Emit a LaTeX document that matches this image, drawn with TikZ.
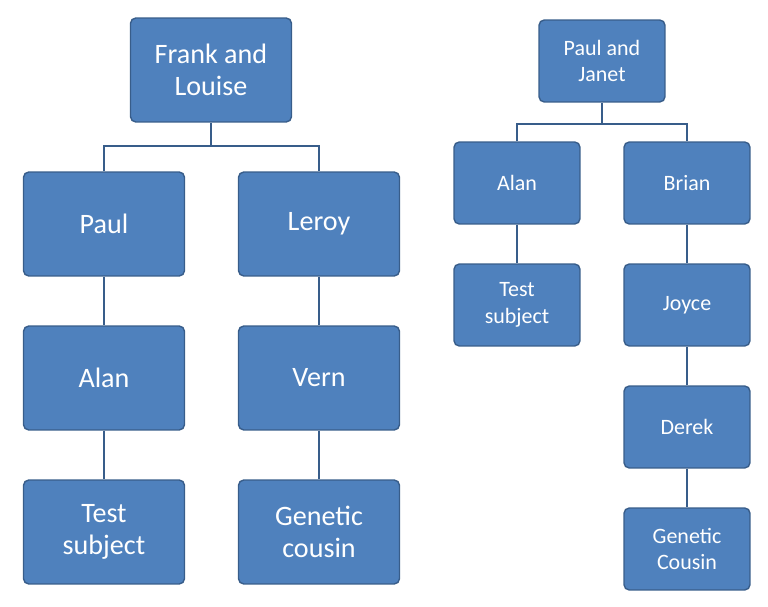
\documentclass[tikz,border=0pt]{standalone}
\usepackage{fontspec}
\setmainfont{Carlito}
\usetikzlibrary{positioning}
\definecolor{boxblue}{HTML}{4F81BD}
\definecolor{edgeblue}{HTML}{385D8A}
\tikzset{
  person/.style={draw=edgeblue, fill=boxblue, text=white, rounded corners=3pt,
    line width=0.8pt, align=center, inner sep=0pt},
  big/.style={person, minimum width=3.22cm, minimum height=2.08cm, font=\fontsize{16}{18}\selectfont},
  small/.style={person, minimum width=2.52cm, minimum height=1.64cm, font=\fontsize{12.5}{15}\selectfont},
  link/.style={draw=edgeblue, line width=1.2pt}
}
\begin{document}
\begin{tikzpicture}[x=0.02cm,y=-0.02cm]
\useasboundingbox (0,0) rectangle (768,607);

% ---------------------
% Frank and Louise
\node[big] (FrankLouise) at (211,70) {Frank and\\Louise};
\node[big] (Paul) at (104,224) {Paul};
\node[big] (Leroy) at (319,224) {Leroy};
\node[big] (AlanL) at (104,378) {Alan};
\node[big] (Vern) at (319,378) {Vern};
\node[big] (TestL) at (104,532) {Test\\subject};
\node[big] (CousinL) at (319,532) {Genetic\\cousin};

\coordinate (BarL) at (211,146);
\draw[link] (FrankLouise) -- (BarL);
\draw[link] (Paul.north) |- (BarL) -| (Leroy.north);
\draw[link] (Paul) -- (AlanL) -- (TestL);
\draw[link] (Leroy) -- (Vern) -- (CousinL);

% ---------------------
% Paul and Janet
\node[small] (PaulJanet) at (602,61) {Paul and\\Janet};
\node[small] (AlanR) at (517,183) {Alan};
\node[small] (Brian) at (687,183) {Brian};
\node[small] (TestR) at (517,305) {Test\\subject};
\node[small] (Joyce) at (687,305) {Joyce};
\node[small] (Derek) at (687,427) {Derek};
\node[small] (CousinR) at (687,549) {Genetic\\Cousin};

\coordinate (BarR) at (602,124);
\draw[link] (PaulJanet) -- (BarR);
\draw[link] (AlanR.north) |- (BarR) -| (Brian.north);
\draw[link] (AlanR) -- (TestR);
\draw[link] (Brian) -- (Joyce) -- (Derek) -- (CousinR);
\end{tikzpicture}
\end{document}
